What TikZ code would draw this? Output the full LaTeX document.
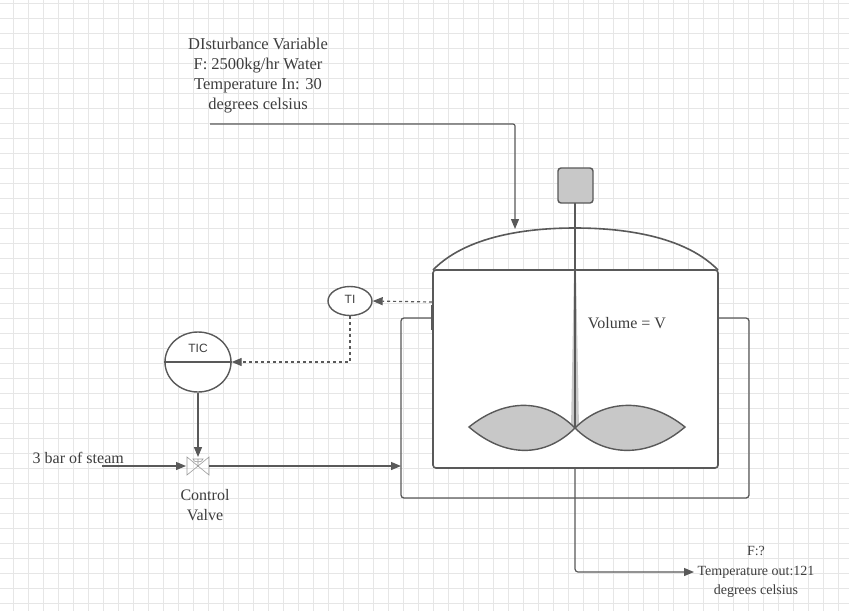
\documentclass[tikz,border=0pt]{standalone}
\usepackage{fontspec}
\setmainfont{Liberation Serif}
\newfontfamily\sansf{Liberation Sans}
\usetikzlibrary{arrows.meta,shapes.geometric}
\definecolor{ln}{HTML}{595959}
\definecolor{gr}{HTML}{E6E6E6}
\definecolor{fillg}{HTML}{C8C8C8}
\tikzset{
  pipe/.style={draw=ln,line width=1.2pt,-{Triangle[length=10pt,width=8pt]}},
  sig/.style={draw=ln,line width=1.2pt,dash pattern=on 3pt off 3pt,-{Triangle[length=10pt,width=8pt]}},
  vessel/.style={draw=ln,line width=1.6pt},
  lbl/.style={font=\fontsize{14}{19.7}\selectfont,text=ln!70!black,align=center},
  big/.style={font=\fontsize{16}{20}\selectfont},
  inst/.style={draw=ln,line width=1.4pt,ellipse,fill=white}
}
\begin{document}
\begin{tikzpicture}[x=1pt,y=-1pt]
\useasboundingbox (0,0) rectangle (849,611);
\fill[white] (0,0) rectangle (849,611);
\foreach \x in {13,28,...,849} \draw[gr,line width=0.5pt] (\x,0) -- (\x,611);
\foreach \y in {3,18,...,611} \draw[gr,line width=0.5pt] (0,\y) -- (849,\y);
% jacket
\draw[draw=ln,line width=1.3pt,rounded corners=3pt] (401,318) rectangle (749,498);
% tank
\draw[vessel,fill=white,rounded corners=3pt] (433,270) rectangle (718,468);
\draw[vessel] (433,270) .. controls (470,232) and (540,228) .. (575,228) .. controls (610,228) and (681,232) .. (718,270);
\draw[draw=ln,line width=3pt] (432,305) -- (432,330);
% agitator
\fill[fillg] (574,270) -- (576,270) -- (579,428) -- (571,428) -- cycle;
\draw[draw=ln,line width=1.3pt] (575,203) -- (575,428);
\node[draw=ln,line width=1.4pt,fill=fillg,rounded corners=3pt,minimum size=35pt,inner sep=0] (motor) at (575.5,185.5) {};
\draw[draw=ln,line width=1.4pt,fill=fillg] (469,427) .. controls (505,398) and (545,398) .. (575,428) .. controls (545,458) and (505,458) .. cycle;
\draw[draw=ln,line width=1.4pt,fill=fillg] (685,427) .. controls (649,398) and (605,398) .. (575,428) .. controls (605,458) and (649,458) .. cycle;
\node[lbl,big] (vol) at (627,323) {Volume = V};
% disturbance
\node[lbl,font=\fontsize{16.5}{20}\selectfont] (dist) at (258,76) {DIsturbance Variable\\F: 2500kg/hr Water\\Temperature In: 30\\degrees celsius};
\coordinate (dstart) at (210,124);
\coordinate (dend) at (515,229);
\draw[pipe,rounded corners=2pt] (dstart) -- (515,124) -- (dend);
% instruments
\node[inst,minimum width=44pt,minimum height=29pt,inner sep=0] (TI) at (350,301) {};
\node[font=\sansf\fontsize{12}{14}\selectfont,text=ln!70!black] at (350,299) {TI};
\node[inst,minimum width=66pt,minimum height=60pt,inner sep=0] (TIC) at (198,362) {};
\draw[draw=ln,line width=1.4pt] (TIC.west) -- (TIC.east);
\node[font=\sansf\fontsize{12}{14}\selectfont,text=ln!70!black] at (198,348) {TIC};
\coordinate (tsense) at (432,302);
\draw[sig] (tsense) -- (TI.east);
\draw[sig] (TI.south) -- (350,362) -- (TIC.east);
% valve
\draw[draw=ln!60,line width=0.6pt] (187,457) -- (187,475) -- (209,457) -- (209,475) -- cycle;
\draw[draw=ln!60,line width=0.6pt] (198,466) -- (198,459) (193,459) arc (180:0:5 and 3) -- cycle;
\coordinate (valvetop) at (198,457);
\draw[pipe] (TIC.south) -- (valvetop);
\coordinate (steam) at (102,466);
\draw[pipe] (steam) -- (186,466);
\node[lbl,big,anchor=east,inner sep=0] (steamlbl) at (124,458) {3 bar of steam};
\coordinate (jin) at (401,466);
\draw[pipe] (209,466) -- (jin);
\node[lbl,big] (cv) at (205,505) {Control\\Valve};
% outlet
\coordinate (out) at (694,572);
\draw[pipe,rounded corners=3pt] (575,468) -- (575,572) -- (out);
\node[lbl] (outlbl) at (756,572) {F:?\\Temperature out:121\\degrees celsius};
\end{tikzpicture}
\end{document}
